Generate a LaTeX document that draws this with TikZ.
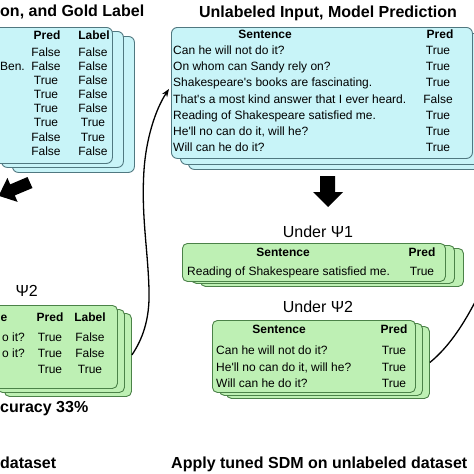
\documentclass[tikz,border=0pt]{standalone}
\usepackage{fontspec}
\setmainfont{Liberation Sans}[Ligatures=TeXOff]
\usetikzlibrary{arrows.meta}
\definecolor{bfill}{RGB}{200,244,248}
\definecolor{bline}{RGB}{80,120,128}
\definecolor{gfill}{RGB}{190,240,180}
\definecolor{gline}{RGB}{75,130,72}
\begin{document}
\begin{tikzpicture}[x=1pt,y=-1pt,
  bbox/.style={draw=bline, fill=bfill, line width=0.9pt, rounded corners=6pt, inner sep=0pt, anchor=north west},
  gbox/.style={draw=gline, fill=gfill, line width=0.9pt, rounded corners=5pt, inner sep=0pt, anchor=north west},
  cell/.style={inner sep=0pt, font=\fontsize{12}{14}\selectfont},
  hd/.style={inner sep=0pt, font=\fontsize{12}{14}\selectfont\bfseries},
  ttl/.style={inner sep=0pt, font=\fontsize{16}{19}\selectfont\bfseries},
  und/.style={inner sep=0pt, font=\fontsize{16}{19}\selectfont},
  conn/.style={line width=1.3pt, black},
  blockarrow/.style={fill=black}
]
\useasboundingbox (0,0) rectangle (474,474);
\clip (0,0) rectangle (474,474);
\fill[white] (0,0) rectangle (474,474);

% ---------- titles ----------
\node[ttl, anchor=base west] (tl) at (0,16.5) {on, and Gold Label};
\node[ttl, anchor=base] (tr) at (328,17) {Unlabeled Input, Model Prediction};
\node[ttl, anchor=base west] (acc) at (0,412) {curacy 33\%};
\node[ttl, anchor=base west] (bl) at (0,468) {dataset};
\node[ttl, anchor=base west] (br) at (171,468) {Apply tuned SDM on unlabeled dataset};
\node[und, anchor=base] (u1) at (318,237) {Under Ψ1};
\node[und, anchor=base] (u2) at (318,312) {Under Ψ2};
\node[und, anchor=base east] (u2l) at (38,296) {Ψ2};

% ---------- left blue stack ----------
\node[bbox, minimum width=122pt, minimum height=136pt] (lb3) at (12,36) {};
\node[bbox, minimum width=122pt, minimum height=136pt] (lb2) at (1,31) {};
\node[bbox, minimum width=122pt, minimum height=136pt] (lb) at (-10,27) {};
\node[hd, anchor=base] (lbhp) at (47,39.5) {Pred};
\node[hd, anchor=base] (lbhl) at (94,39.5) {Label};
\node[cell, anchor=base east] (lbben) at (25,70.5) {Ben.};
\foreach \p/\l/\yy [count=\i] in {False/False/56.5, False/False/70.5, True/False/84.5, True/False/98.5, True/False/112.5, True/True/126.5, False/True/141, False/False/155}{
  \node[cell, anchor=base] (lbp\i) at (46,\yy) {\p};
  \node[cell, anchor=base] (lbl\i) at (93,\yy) {\l};
}

% ---------- right blue stack ----------
\node[bbox, minimum width=301pt, minimum height=131pt] (rb3) at (188,38) {};
\node[bbox, minimum width=301pt, minimum height=131pt] (rb2) at (180,33) {};
\node[bbox, minimum width=301pt, minimum height=131pt] (rb) at (171,27) {};
\node[hd, anchor=base] (rbhs) at (265,38.5) {Sentence};
\node[hd, anchor=base] (rbhp) at (440,38.5) {Pred};
\foreach \s/\p/\yy [count=\i] in {{Can he will not do it?}/True/54.5, {On whom can Sandy rely on?}/True/70.5, {Shakespeare's books are fascinating.}/True/86.5, {That's a most kind answer that I ever heard.}/False/103, {Reading of Shakespeare satisfied me.}/True/119, {He'll no can do it, will he?}/True/135, {Will can he do it?}/True/151}{
  \node[cell, anchor=base west] (rbs\i) at (173,\yy) {\s};
  \node[cell, anchor=base] (rbp\i) at (438,\yy) {\p};
}

% ---------- green psi1 stack ----------
\node[gbox, minimum width=263pt, minimum height=38pt] (g1c) at (200,248) {};
\node[gbox, minimum width=263pt, minimum height=38pt] (g1b) at (191,245) {};
\node[gbox, minimum width=263pt, minimum height=38pt] (g1) at (182,243) {};
\node[hd, anchor=base] (g1hs) at (283,256.5) {Sentence};
\node[hd, anchor=base] (g1hp) at (422,256.5) {Pred};
\node[cell, anchor=base west] (g1s1) at (187,275.5) {Reading of Shakespeare satisfied me.};
\node[cell, anchor=base] (g1p1) at (422,275.5) {True};

% ---------- green psi2 stack ----------
\node[gbox, minimum width=203pt, minimum height=72pt] (g2c) at (226,326) {};
\node[gbox, minimum width=203pt, minimum height=72pt] (g2b) at (219,323) {};
\node[gbox, minimum width=203pt, minimum height=72pt] (g2) at (212,320) {};
\node[hd, anchor=base] (g2hs) at (279,333.5) {Sentence};
\node[hd, anchor=base] (g2hp) at (394,333.5) {Pred};
\foreach \s/\yy [count=\i] in {{Can he will not do it?}/354.5, {He'll no can do it, will he?}/371.5, {Will can he do it?}/387.5}{
  \node[cell, anchor=base west] (g2s\i) at (216,\yy) {\s};
  \node[cell, anchor=base] (g2p\i) at (394,\yy) {True};
}

% ---------- left green stack ----------
\node[gbox, minimum width=127pt, minimum height=83pt] (lg3) at (4,313) {};
\node[gbox, minimum width=127pt, minimum height=83pt] (lg2) at (-3,309) {};
\node[gbox, minimum width=127pt, minimum height=83pt] (lg) at (-10,305) {};
\node[hd, anchor=base west] (lghs) at (0.5,321.5) {e};
\node[hd, anchor=base] (lghp) at (50,321.5) {Pred};
\node[hd, anchor=base] (lghl) at (90,321.5) {Label};
\node[cell, anchor=base east] (lgs1) at (25,341.5) {o it?};
\node[cell, anchor=base east] (lgs2) at (25,357.5) {o it?};
\foreach \l/\yy [count=\i] in {False/341.5, False/357.5, True/373.5}{
  \node[cell, anchor=base] (lgp\i) at (50,\yy) {True};
  \node[cell, anchor=base] (lgl\i) at (90,\yy) {\l};
}

% ---------- block arrows ----------
\fill[blockarrow] (320,176) -- (335,176) -- (335,192) -- (343,192) -- (328,207) -- (313,192) -- (320,192) -- cycle;
\fill[blockarrow] (27.5,177) -- (32.5,188) -- (14.8,195.4) -- (17.6,201.9) -- (-1.3,195.8) -- (7.4,177.9) -- (10.2,184.4) -- cycle;

% ---------- connectors ----------
\coordinate (rbin) at ([xshift=-2pt,yshift=4pt]rb.west);
\draw[conn, -{Stealth[length=8pt,width=6pt]}] (lg3.east) .. controls (142,340) and (150,320) .. (149,290) .. controls (148,250) and (141,215) .. (144,170) .. controls (146,140) and (155,110) .. (rbin);
\coordinate (rexit) at (482,288);
\draw[conn] (g2c.east) .. controls (445,350) and (462,330) .. (rexit);
\end{tikzpicture}
\end{document}
